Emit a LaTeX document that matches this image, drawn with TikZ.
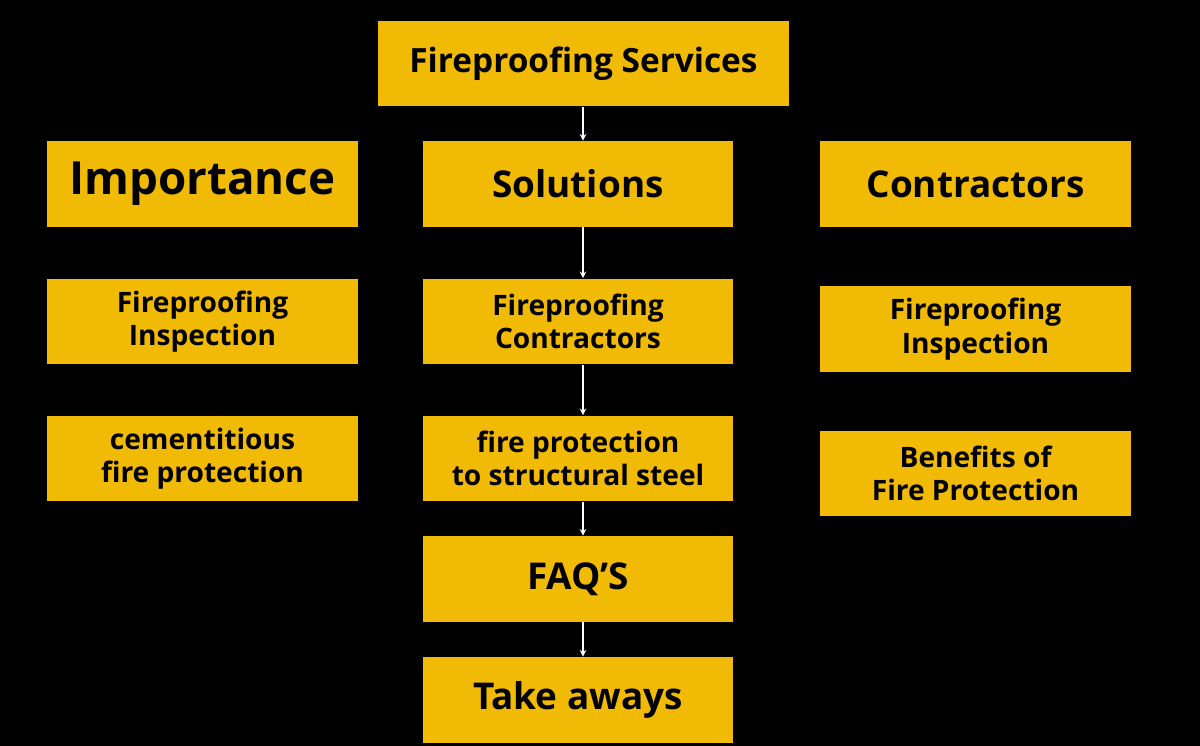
\documentclass[tikz,border=0pt]{standalone}
\usepackage{fontspec}
\setmainfont{Open Sans}
\usetikzlibrary{positioning}
\definecolor{boxyellow}{HTML}{F0BA05}
\tikzset{
    box/.style={fill=boxyellow, minimum width=6.22cm, minimum height=1.72cm, align=center, font=\bfseries\fontsize{16}{19}\selectfont, inner sep=0pt},
    link/.style={draw=white, ->, >=stealth, line width=0.7pt}
}

\begin{document}
\begin{tikzpicture}[x=0.02cm, y=-0.02cm]
    % background
    \fill[black] (0,0) rectangle (1200,746);

    % top and middle column
    \node[box, minimum width=8.22cm, font=\bfseries\fontsize{19}{22}\selectfont] (top) at (583.5,63.5) {Fireproofing Services};
    \node[box, font=\bfseries\fontsize{21}{24}\selectfont] (sol) at (578,184) {Solutions};
    \node[box] (fpc) at (578,321.5) {Fireproofing\\Contractors};
    \node[box] (steel) at (578,458.5) {fire protection\\to structural steel};
    \node[box, font=\bfseries\fontsize{21}{24}\selectfont] (faq) at (578,579) {FAQ’S};
    \node[box, font=\bfseries\fontsize{21}{24}\selectfont] (take) at (578,700) {Take aways};

    % left column
    \node[box, font=\bfseries\fontsize{26}{30}\selectfont] (imp) at (202.5,184) {Importance};
    \node[box] (insl) at (202.5,321.5) {Fireproofing\\Inspection};
    \node[box] (cem) at (202.5,458.5) {cementitious\\fire protection};

    % right column
    \node[box, font=\bfseries\fontsize{21}{24}\selectfont] (con) at (975.5,184) {Contractors};
    \node[box] (insr) at (975.5,329) {Fireproofing\\Inspection};
    \node[box] (ben) at (975.5,473.5) {Benefits of\\Fire Protection};

    % arrows
    \draw[link] (top.south -| 583,0) -- (sol.north -| 583,0);
    \draw[link] (sol.south -| 583,0) -- (fpc.north -| 583,0);
    \draw[link] (fpc.south -| 583,0) -- (steel.north -| 583,0);
    \draw[link] (steel.south -| 583,0) -- (faq.north -| 583,0);
    \draw[link] (faq.south -| 583,0) -- (take.north -| 583,0);
\end{tikzpicture}
\end{document}
